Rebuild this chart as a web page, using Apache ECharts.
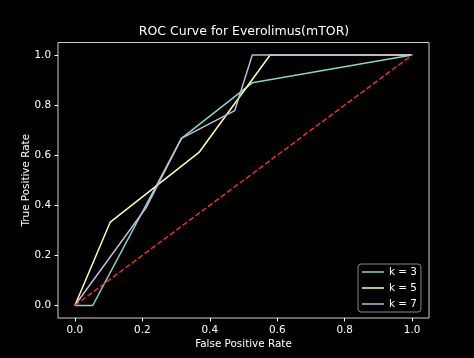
<!DOCTYPE html>
<html>
<head>
<meta charset="utf-8">
<script src="https://cdn.jsdelivr.net/npm/echarts@6/dist/echarts.min.js"></script>
<style>
html,body{margin:0;padding:0;background:#000;}
#c{width:474px;height:358px;}
</style>
</head>
<body>
<div id="c"></div>
<script>
var titleText = 'ROC Curve for Everolimus(mTOR)';
var xName = 'False Positive Rate';
var yName = 'True Positive Rate';
var tickValues = [0, 0.2, 0.4, 0.6, 0.8, 1.0];

var seriesNames = ['k = 3', 'k = 5', 'k = 7'];
var fprK3 = [0, 0.053, 0.316, 0.526, 1];
var tprK3 = [0, 0, 0.667, 0.889, 1];
var fprK5 = [0, 0.105, 0.368, 0.579, 1];
var tprK5 = [0, 0.333, 0.611, 1, 1];
var fprK7 = [0, 0.211, 0.316, 0.474, 0.526, 1];
var tprK7 = [0, 0.39, 0.667, 0.778, 1, 1];
var chanceX = [0, 1];
var chanceY = [0, 1];

function zip(a, b) { return a.map(function (v, i) { return [v, b[i]]; }); }

var colors = ['#8dd3c7', '#feffb3', '#bfbbd9'];
var font = 'DejaVu Sans';
var fs = 10.4;

var chart = echarts.init(document.getElementById('c'));
function lineSeries(name, data, color) {
  return {
    name: name, type: 'line', data: data, symbol: 'none', color: color,
    lineStyle: { width: 1.5, color: color }, animation: false
  };
}
function axisCommon(name, gap, rotate) {
  return {
    type: 'value', min: -0.05, max: 1.05,
    name: name, nameLocation: 'middle', nameGap: gap, nameRotate: rotate,
    nameMoveOverlap: false,
    nameTextStyle: { color: '#fff', fontSize: fs, fontFamily: font },
    axisLine: { show: false, onZero: false },
    splitLine: { show: false },
    axisTick: { show: true, inside: false, length: 3.5, customValues: tickValues, lineStyle: { color: '#fff', width: 1 } },
    axisLabel: { customValues: tickValues, color: '#fff', fontSize: fs, fontFamily: font, margin: 7,
      formatter: function (v) { return v.toFixed(1); } }
  };
}
chart.setOption({
  backgroundColor: '#000',
  animation: false,
  textStyle: { fontFamily: font },
  graphic: [{
    type: 'text', x: 244, y: 32,
    style: { text: titleText, fill: '#fff', font: '12.5px "DejaVu Sans"', align: 'center', verticalAlign: 'middle' }
  }],
  grid: {
    left: 58, top: 42.5, width: 371, height: 275.5, containLabel: false,
    show: true, borderColor: '#cfcfcf', borderWidth: 1, backgroundColor: '#000'
  },
  xAxis: axisCommon(xName, 21.5, 0),
  yAxis: axisCommon(yName, 27, 90),
  legend: {
    orient: 'vertical', left: 358, top: 264,
    data: seriesNames,
    icon: 'rect', itemWidth: 22, itemHeight: 1.5, itemGap: 4, itemTextGap: 8,
    textStyle: { color: '#fff', fontSize: fs, fontFamily: font, lineHeight: 12 },
    backgroundColor: 'rgba(0,0,0,0.8)', borderColor: '#888', borderWidth: 1, borderRadius: 3,
    padding: [2, 4, 2, 4]
  },
  series: [
    lineSeries(seriesNames[0], zip(fprK3, tprK3), colors[0]),
    lineSeries(seriesNames[1], zip(fprK5, tprK5), colors[1]),
    lineSeries(seriesNames[2], zip(fprK7, tprK7), colors[2]),
    {
      name: 'chance', type: 'line', data: zip(chanceX, chanceY), symbol: 'none',
      lineStyle: { width: 1.5, color: '#e8302a', type: [5.5, 2.4] }, color: '#e8302a'
    }
  ]
});
</script>
</body>
</html>
